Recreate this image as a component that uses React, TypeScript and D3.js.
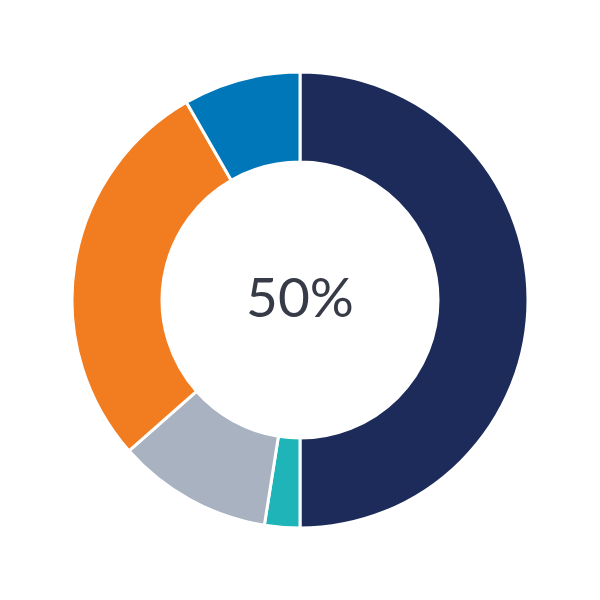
import React, { useEffect, useRef } from "react";
import * as d3 from "d3";

// segments, clockwise from 12 o'clock
const labels = ["Navy", "Teal", "Gray", "Orange", "Blue"];
const values = [50, 2.5, 11, 28.2, 8.3];
const colors = ["#1c2b5a", "#1fb5b8", "#a8b2c1", "#f27d20", "#0077b8"];
const centerLabel = "50%";

const App = () => {
  const svgRef = useRef<SVGSVGElement>(null);

  useEffect(() => {
    const svg = d3.select(svgRef.current);
    svg.selectAll("*").remove(); // clear before redraw

    const width = 600;
    const height = 600;
    const outer = 228;
    const inner = 138;

    const g = svg
      .append("g")
      .attr("transform", `translate(${width / 2},${height / 2})`);

    const data = labels.map((name, i) => ({ name, value: values[i], color: colors[i] }));

    const pie = d3
      .pie<{ name: string; value: number; color: string }>()
      .sort(null)
      .value((d) => d.value);

    const arc = d3
      .arc<d3.PieArcDatum<{ name: string; value: number; color: string }>>()
      .innerRadius(inner)
      .outerRadius(outer);

    g.selectAll("path")
      .data(pie(data))
      .enter()
      .append("path")
      .attr("d", arc)
      .attr("fill", (d) => d.data.color)
      .attr("stroke", "#ffffff")
      .attr("stroke-width", 3);

    // big number in the hole
    g.append("text")
      .attr("x", 0)
      .attr("y", -2)
      .attr("dy", "0.35em")
      .attr("text-anchor", "middle")
      .style("font-family", "Lato, 'Open Sans', sans-serif")
      .style("font-size", "55px")
      .style("fill", "#363b47")
      .text(centerLabel);
  }, []);

  return (
    <svg
      ref={svgRef}
      width={600}
      height={600}
      style={{ position: "absolute", left: 0, top: 0, background: "#fff" }}
    ></svg>
  );
};

export default App;
